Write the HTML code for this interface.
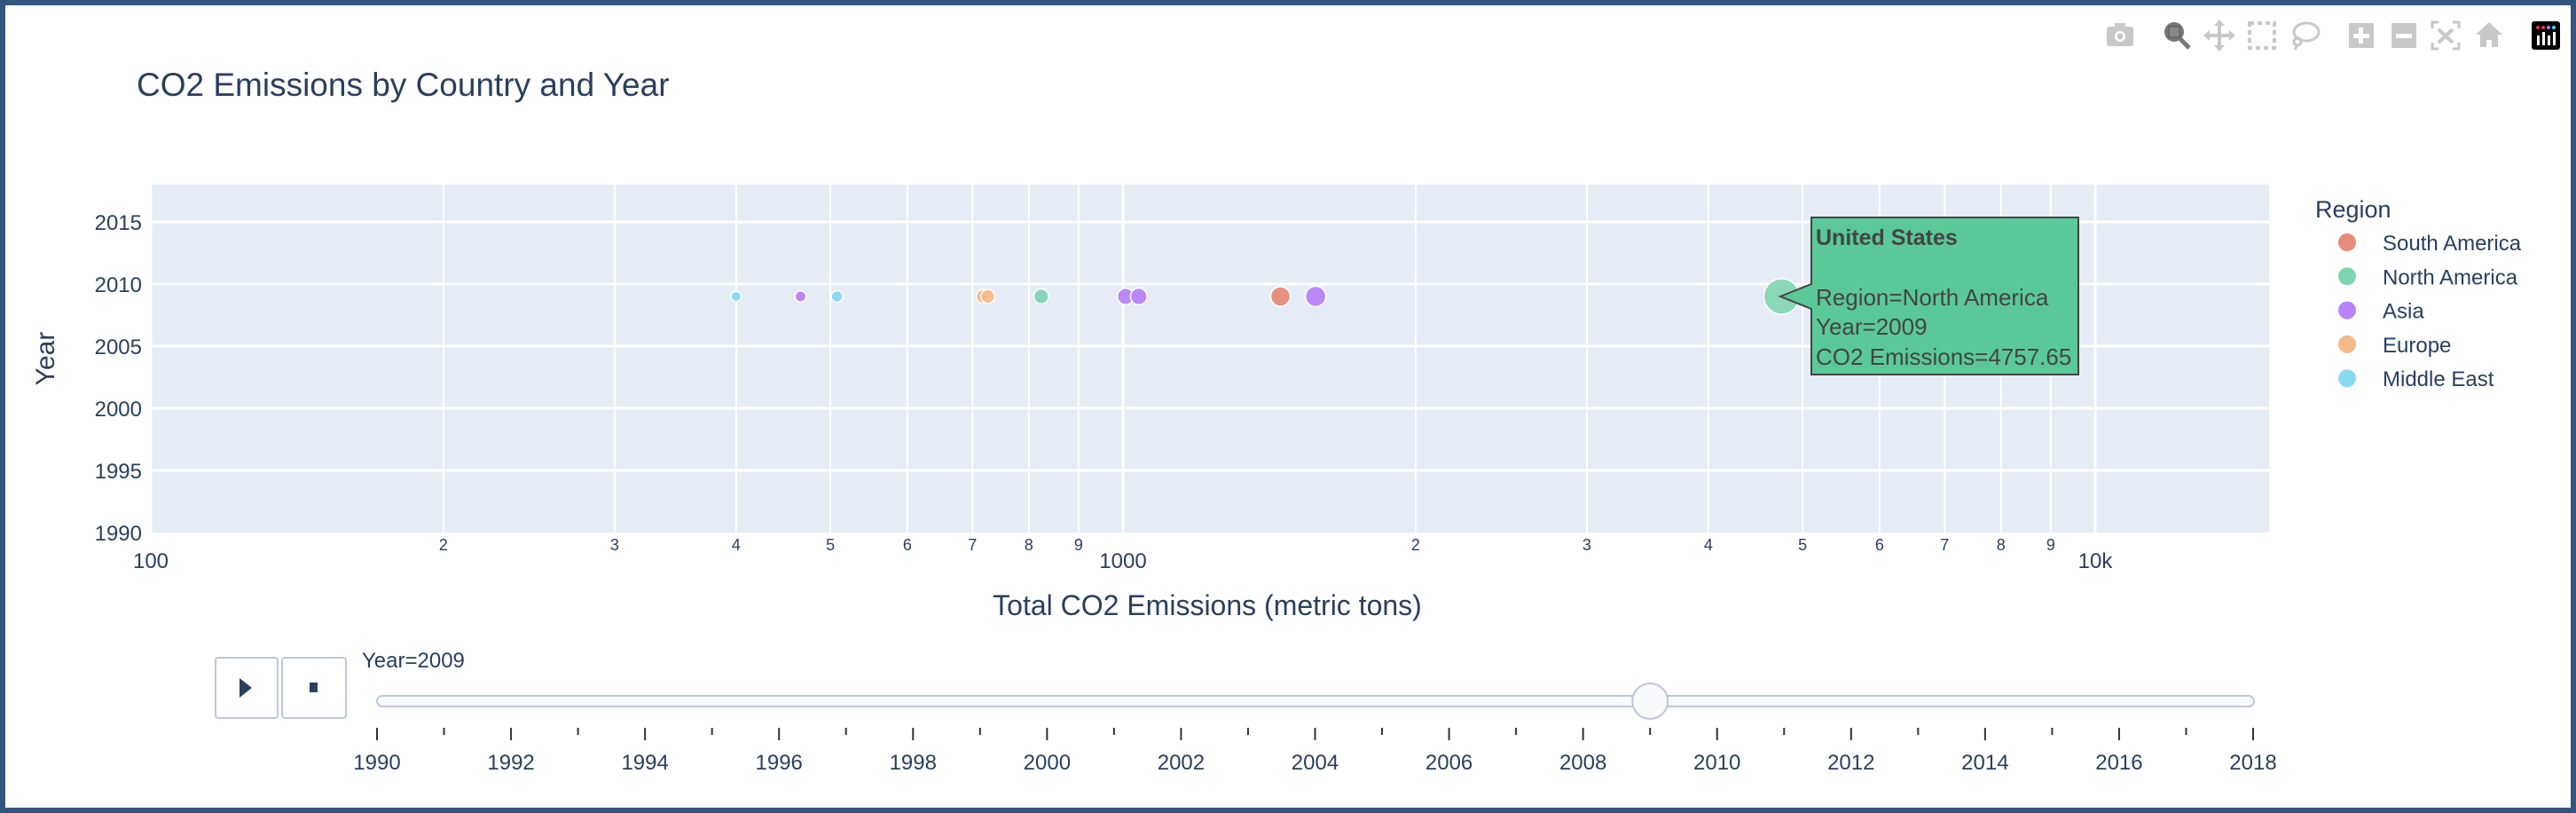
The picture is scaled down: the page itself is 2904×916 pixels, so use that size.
<!DOCTYPE html>
<html><head><meta charset="utf-8"><style>
html,body{margin:0;padding:0;background:#fff;}
body{width:2904px;height:916px;overflow:hidden;font-family:"Liberation Sans",sans-serif;}
#frame{position:absolute;left:0;top:0;width:2892px;height:904px;border:6px solid #34557f;}
svg{position:absolute;left:0;top:0;}
text{font-family:"Liberation Sans",sans-serif;}
</style></head><body>
<div id="frame"></div>
<svg id="chart" width="2904" height="916">
  <text x="154" y="108" font-size="37" fill="#2a3f5f">CO2 Emissions by Country and Year</text>
  <rect x="170" y="208" width="2388" height="392" fill="#e5ecf6"/>
  <g id="grid"></g>
  <g id="points"></g>
  <text transform="translate(61,404) rotate(-90)" text-anchor="middle" font-size="30" fill="#2a3f5f">Year</text>
  <text x="1361" y="693" text-anchor="middle" font-size="32" fill="#2a3f5f">Total CO2 Emissions (metric tons)</text>
  <g id="tooltip">
    <path d="M2007,334 L2042,320 L2042,245 L2343,245 L2343,422 L2042,422 L2042,348 Z" fill="#5ac898" stroke="#444" stroke-width="2"/>
    <text x="2047" y="276" font-size="25" font-weight="bold" fill="#444">United States</text>
    <text x="2047" y="344" font-size="26" fill="#444">Region=North America</text>
    <text x="2047" y="377" font-size="26" fill="#444">Year=2009</text>
    <text x="2047" y="411" font-size="26" fill="#444">CO2 Emissions=4757.65</text>
  </g>
  <g id="legend">
    <text x="2610" y="245" font-size="27" fill="#2a3f5f">Region</text>
  </g>
  <g id="modebar">
    <g fill="#c8c8c8">
      <rect x="2375" y="30" width="30" height="22" rx="3"/>
      <circle cx="2390" cy="41" r="6" fill="#fff"/>
      <circle cx="2390" cy="41" r="3.5"/>
      <rect x="2384" y="26" width="12" height="5" rx="1"/>
    </g>
    <g>
      <circle cx="2451" cy="36" r="11" fill="#777"/>
      <rect x="2445" y="30" width="12" height="12" fill="#888" stroke="#555" stroke-width="1"/>
      <line x1="2458" y1="44" x2="2468" y2="54" stroke="#777" stroke-width="5"/>
    </g>
    <g stroke="#c8c8c8" stroke-width="4" fill="#c8c8c8">
      <line x1="2486" y1="40" x2="2518" y2="40"/><line x1="2502" y1="24" x2="2502" y2="56"/>
      <path d="M2502,22 l-6,7 h12 z M2502,58 l-6,-7 h12 z M2484,40 l7,-6 v12 z M2520,40 l-7,-6 v12 z" stroke="none"/>
    </g>
    <rect x="2536" y="26" width="28" height="28" fill="none" stroke="#c8c8c8" stroke-width="4" stroke-dasharray="5,4"/>
    <g fill="none" stroke="#c8c8c8" stroke-width="3">
      <ellipse cx="2600" cy="36" rx="14" ry="10"/><circle cx="2590" cy="47" r="4"/><line x1="2590" y1="51" x2="2587" y2="56"/>
    </g>
    <g>
      <rect x="2648" y="26" width="28" height="28" fill="#c8c8c8"/>
      <rect x="2653" y="38" width="18" height="5" fill="#fff"/><rect x="2659" y="31" width="5" height="18" fill="#fff"/>
    </g>
    <g>
      <rect x="2696" y="26" width="28" height="28" fill="#c8c8c8"/>
      <rect x="2701" y="38" width="18" height="5" fill="#fff"/>
    </g>
    <g fill="none" stroke="#c8c8c8" stroke-width="3">
      <path d="M2742,32 v-7 h7 M2765,25 h7 v7 M2772,48 v7 h-7 M2749,55 h-7 v-7"/>
      <path d="M2749,33 l16,15 M2765,33 l-16,15" stroke-width="4"/>
    </g>
    <path d="M2806,25 l-15,14 h5 v14 h7 v-8 h6 v8 h7 v-14 h5 z" fill="#c8c8c8"/>
    <g>
      <rect x="2854" y="24" width="32" height="32" rx="3" fill="#000"/>
      <g fill="#fff"><rect x="2860" y="40" width="3" height="11"/><rect x="2866" y="36" width="3" height="15"/><rect x="2872" y="40" width="3" height="11"/><rect x="2878" y="36" width="3" height="15"/></g>
      <circle cx="2861" cy="31" r="2" fill="#e6324b"/><circle cx="2867" cy="31" r="2" fill="#e6324b"/><circle cx="2873" cy="31" r="2" fill="#b27ef2"/><circle cx="2879" cy="31" r="2" fill="#5ad0f0"/>
    </g>
  </g>
  <g id="slider">
    <rect x="243" y="741" width="70" height="68" rx="3" fill="#fff" stroke="#bec8d9" stroke-width="2"/>
    <path d="M270,764 l14,11 l-14,11 z" fill="#2a3f5f"/>
    <rect x="318" y="741" width="72" height="68" rx="3" fill="#fff" stroke="#bec8d9" stroke-width="2"/>
    <rect x="349" y="769" width="9" height="11" fill="#2a3f5f"/>
    <text x="408" y="752" font-size="24" fill="#2a3f5f">Year=2009</text>
    <rect x="425" y="784" width="2116" height="12" rx="6" fill="#f8fafc" stroke="#bec8d9" stroke-width="2"/>
    <g id="sliderTicks"></g>
    <rect id="handle" x="1840" y="770" width="40" height="40" rx="20" fill="#f8fafc" stroke="#bec8d9" stroke-width="2"/>
  </g>
</svg>
<script>
const regions = ["South America","North America","Asia","Europe","Middle East"];
const regionColors = ["#e58c7a","#7ed6b0","#b784f7","#f6b98a","#8ad9f2"];
const countries = ["Middle East A","Asia A","Middle East B","Europe A","Europe B","North America B","Asia B","Asia C","South America A","Asia D","United States"];
const countryRegion = [4,2,4,3,3,1,2,2,0,2,1];
const emissions = [400,466,508,718,726,824,1006,1038,1452,1578,4757.65];
const years = [2009,2009,2009,2009,2009,2009,2009,2009,2009,2009,2009];
const yTicks = [1990,1995,2000,2005,2010,2015];
const sliderYears = [1990,1992,1994,1996,1998,2000,2002,2004,2006,2008,2010,2012,2014,2016,2018];
const currentYear = 2009;

const NS="http://www.w3.org/2000/svg";
const X0=170,X1=2558,Y0=600,Y1=208;
const xMin=2, decade=1096;
const xScale=v=>X0+(Math.log10(v)-xMin)*decade;
const yScale=v=>Y0-(v-1990)/(2018-1990)*(Y0-Y1);
const sScale=v=>425+(v-1990)/(2018-1990)*(2540-425);
function mk(tag,attrs,parent){const e=document.createElementNS(NS,tag);for(const k in attrs)e.setAttribute(k,attrs[k]);parent.appendChild(e);return e;}
const grid=document.getElementById('grid');
for(let d=2;d<=4;d++){
  for(let m=1;m<=9;m++){
    const v=m*Math.pow(10,d);const x=xScale(v);
    if(x>X1)continue;
    const ln=mk('line',{x1:x,x2:x,y1:Y1,y2:Y0,stroke:'#fff','stroke-width':m===1?3:2},grid);
    
    
    let t;
    if(m===1){t=mk('text',{x:x,y:640,'font-size':24,fill:'#2a3f5f','text-anchor':'middle'},grid);t.textContent=v===100?'100':v===1000?'1000':'10k';}
    else{t=mk('text',{x:x,y:620,'font-size':18,fill:'#2a3f5f','text-anchor':'middle'},grid);t.textContent=m;}
    
    
  }
}
yTicks.forEach(v=>{
  const y=yScale(v);
  if(v!==1990){const ln=mk('line',{x1:X0,x2:X1,y1:y,y2:y,stroke:'#fff','stroke-width':3},grid);
  
  }
  const t=mk('text',{x:160,y:y+9,'font-size':24,fill:'#2a3f5f','text-anchor':'end'},grid);
  t.textContent=v;
  
  
});
const pts=document.getElementById('points');
const maxE=Math.max(...emissions);
emissions.forEach((v,i)=>{
  const r=20*Math.sqrt(v/maxE);
  const c=mk('circle',{cx:xScale(v),cy:yScale(years[i]),r:Math.max(r,5),fill:regionColors[countryRegion[i]],'fill-opacity':0.95,stroke:'#fff','stroke-width':1.5},pts);
  if(i===emissions.length-1)c.setAttribute('fill','#86d6b3');
  
  
});
const lg=document.getElementById('legend');
regions.forEach((r,i)=>{
  const y=273+i*38.3;
  const g=mk('g',{},lg);
  
  
  mk('circle',{cx:2646,cy:y,r:10,fill:regionColors[i]},g);
  const t=mk('text',{x:2686,y:y+9,'font-size':24,fill:'#2a3f5f'},g);t.textContent=r;
});
const st=document.getElementById('sliderTicks');
for(let yr=1990;yr<=2018;yr++){
  const x=sScale(yr);const major=yr%2===0;
  const l=mk('line',{x1:x,x2:x,y1:820,y2:major?834:828,stroke:'#333','stroke-width':2},st);
  
  
}
sliderYears.forEach(yr=>{
  const t=mk('text',{x:sScale(yr),y:867,'font-size':24,fill:'#2a3f5f','text-anchor':'middle'},st);
  t.textContent=yr;
  
  
});
document.getElementById('handle').setAttribute('x',sScale(currentYear)-20);
</script>
</body></html>
